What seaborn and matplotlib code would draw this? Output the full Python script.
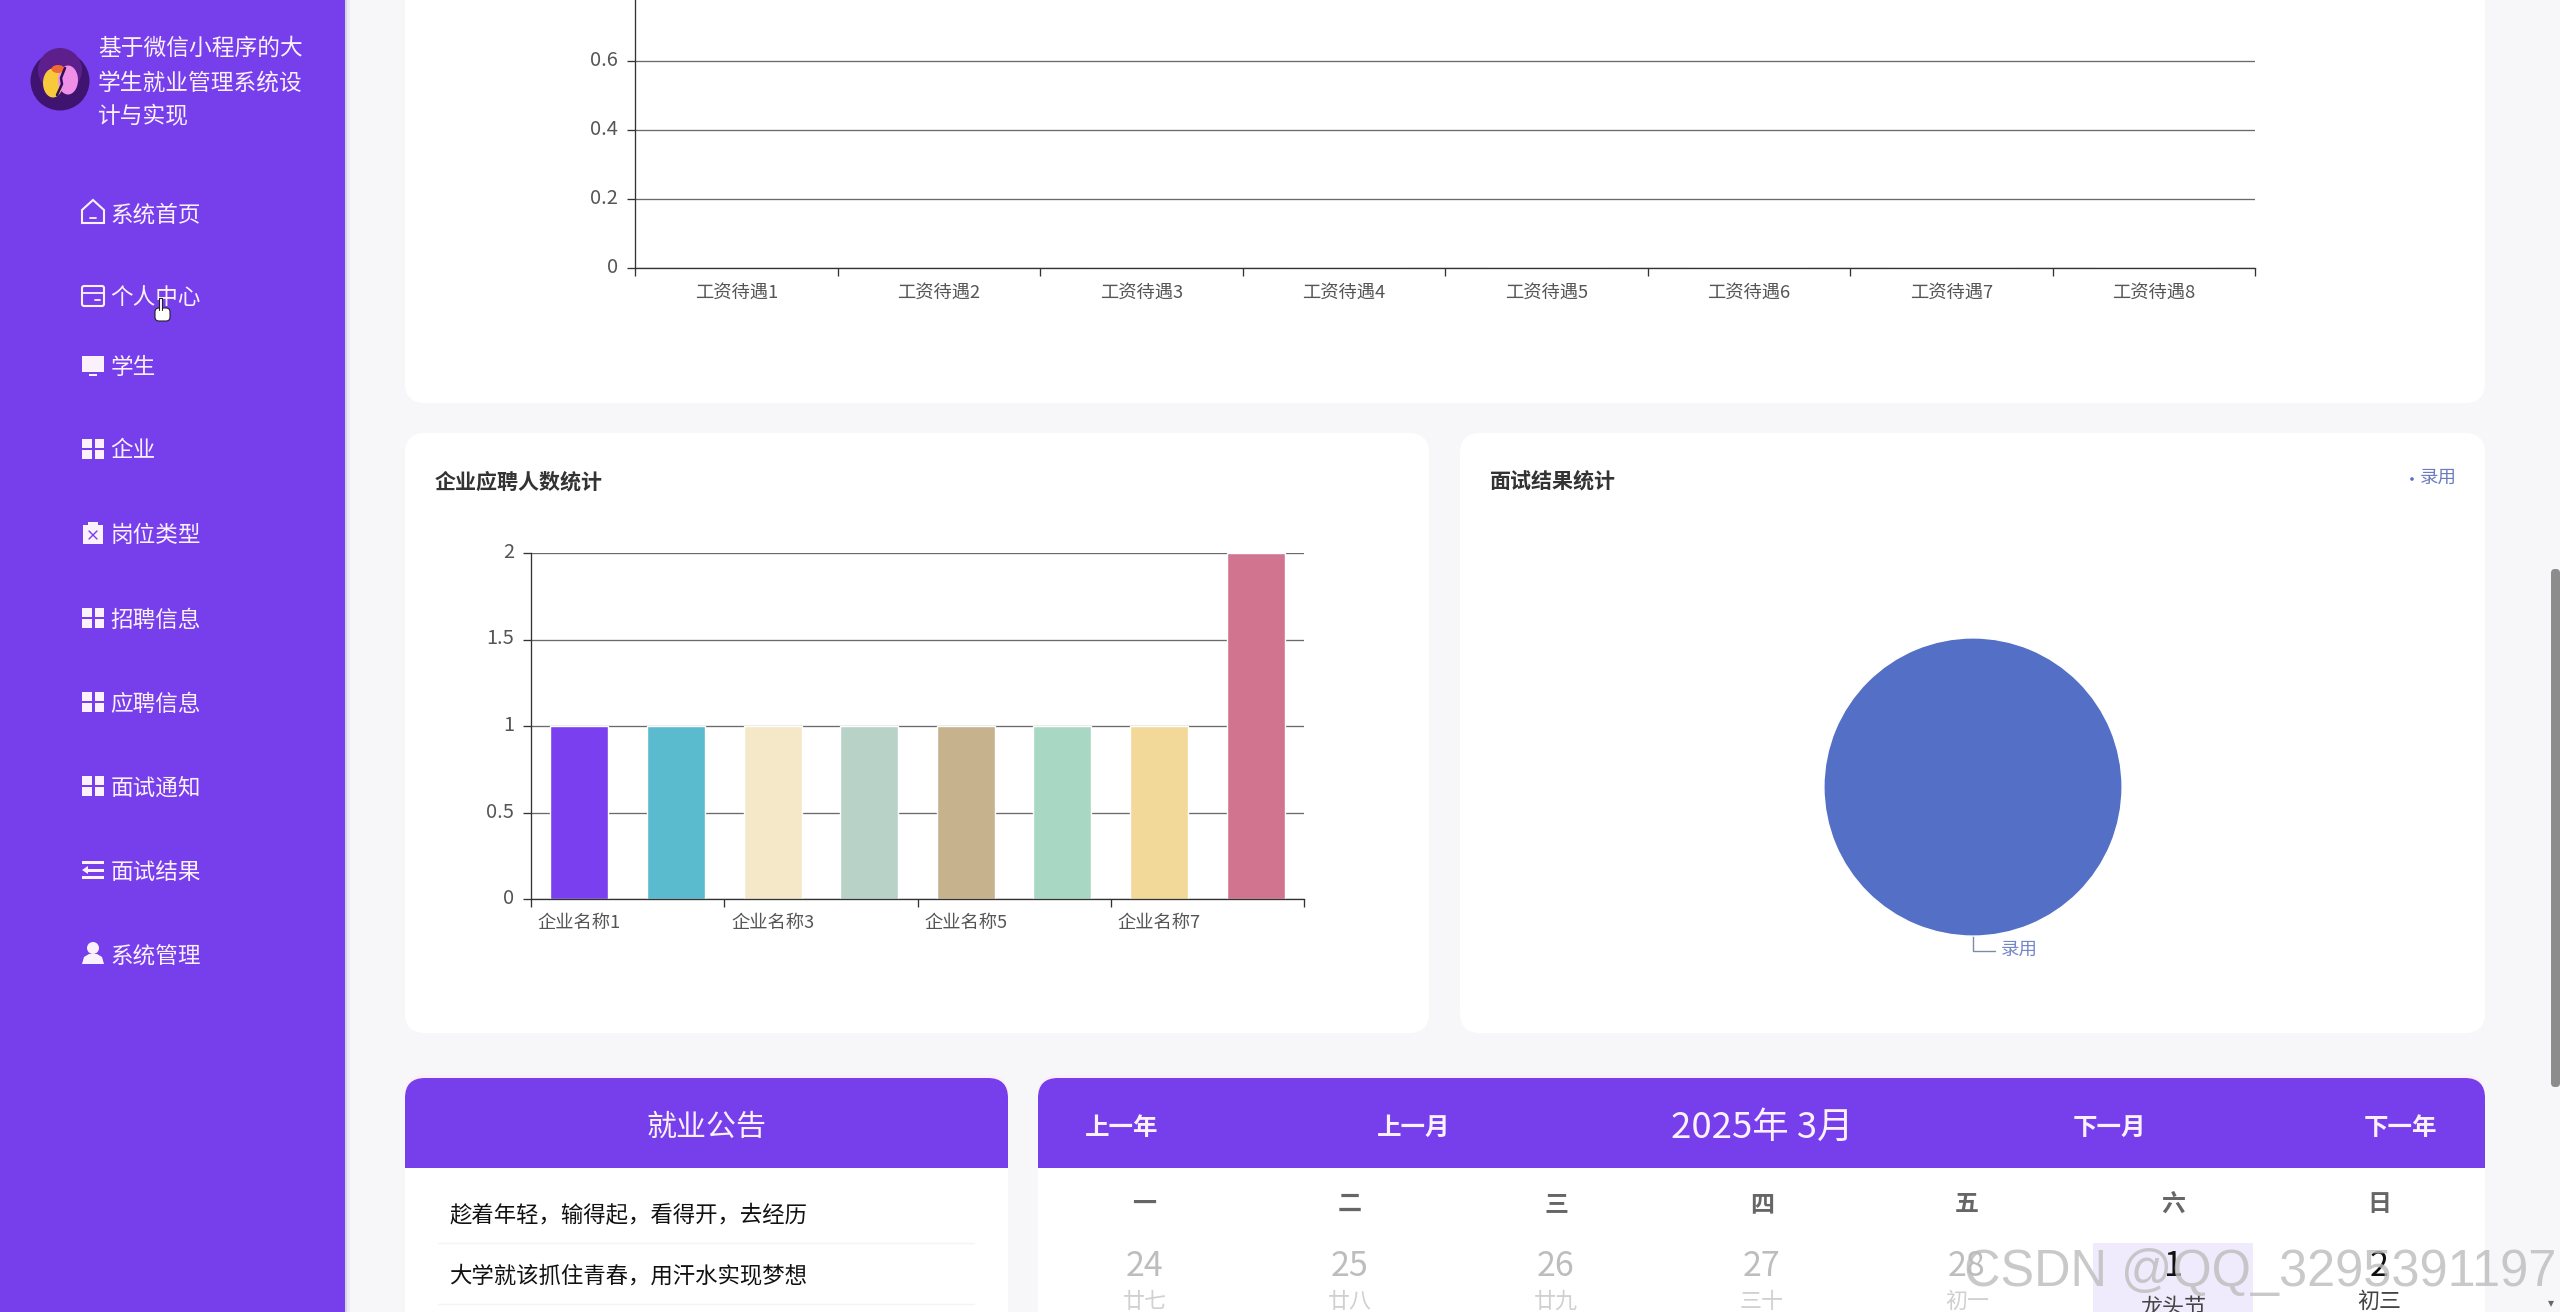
import matplotlib
matplotlib.use("Agg")
import matplotlib.pyplot as plt
import matplotlib.transforms as mtrans
import seaborn as sns
import pandas as pd
from matplotlib.patches import Rectangle, FancyBboxPatch, Circle, Ellipse, Polygon

# data
salary_labels = ["工资待遇1", "工资待遇2", "工资待遇3", "工资待遇4", "工资待遇5", "工资待遇6", "工资待遇7", "工资待遇8"]
salary_values = [0, 0, 0, 0, 0, 0, 0, 0]
salary_yticks = [0, 0.2, 0.4, 0.6, 0.8, 1.0]
salary_yticklabels = ["0", "0.2", "0.4", "0.6", "0.8", "1"]

company_labels = ["企业名称1", "企业名称2", "企业名称3", "企业名称4", "企业名称5", "企业名称6", "企业名称7", "企业名称8"]
company_values = [1, 1, 1, 1, 1, 1, 1, 2]
company_colors = ["#7a3fee", "#5abbce", "#f5e8c8", "#b8d2c7", "#c6b38e", "#a8d8c4", "#f3d999", "#d0748f"]
company_yticks = [0, 0.5, 1, 1.5, 2]
company_yticklabels = ["0", "0.5", "1", "1.5", "2"]

result_labels = ["录用"]
result_values = [1]
result_colors = ["#5470c6"]

menu_items = ["系统首页", "个人中心", "学生", "企业", "岗位类型", "招聘信息", "应聘信息", "面试通知", "面试结果", "系统管理"]
menu_y = [213, 296, 366, 449, 534, 618, 702, 786, 870, 954]
menu_icons = ["home", "card", "screen", "grid", "clip", "grid", "grid", "grid", "list", "user"]
notices = ["趁着年轻，输得起，看得开，去经历", "大学就该抓住青春，用汗水实现梦想"]
week_days = ["一", "二", "三", "四", "五", "六", "日"]
date_nums = ["24", "25", "26", "27", "28", "1", "2"]
date_lunar = ["廿七", "廿八", "廿九", "三十", "初一", "龙头节", "初三"]

W, H = 2560, 1312
PURPLE = "#773fec"
SIDE_TEXT = "#fbf1fc"

sns.set_theme(style="white")
plt.rcParams["font.family"] = ["Noto Sans CJK SC", "DejaVu Sans"]
plt.rcParams["axes.unicode_minus"] = False

fig = plt.figure(figsize=(W / 100, H / 100), dpi=100, facecolor="#f7f7f9")


def px(size):
    return size * 0.72


def chart_axes(x0, y0, x1, y1):
    return fig.add_axes([x0 / W, 1 - y1 / H, (x1 - x0) / W, (y1 - y0) / H], zorder=2)


# page layer in pixel coordinates
bg = fig.add_axes([0, 0, 1, 1], zorder=0)
bg.set_xlim(0, W)
bg.set_ylim(H, 0)
bg.axis("off")


def rect(x0, y0, x1, y1, color, z=1):
    bg.add_patch(Rectangle((x0, y0), x1 - x0, y1 - y0, fc=color, ec="none", zorder=z))


def card(x0, y0, x1, y1, color="white", r=20, z=1):
    bg.add_patch(FancyBboxPatch((x0, y0), x1 - x0, y1 - y0, boxstyle=f"round,pad=0,rounding_size={r}",
                                fc=color, ec="none", zorder=z))


def label(x, y, s, size, color="#333333", ha="center", weight="normal", z=4, **kw):
    # noto sits a little high against the browser font
    return bg.text(x, y + 2, s, fontsize=px(size), color=color, ha=ha, va="center", fontweight=weight, zorder=z, **kw)


# sidebar
rect(345, 0, 347, H, "#d8d2e8")
rect(347, 0, 350, H, "#ecebf3")
rect(0, 0, 345, H, PURPLE, z=2)
bg.add_patch(Circle((60, 81), 29.5, fc="#3f1470", ec="none", zorder=3))
bg.add_patch(Circle((60, 70), 22, fc="#5d1f8c", ec="none", zorder=3))
bg.add_patch(Ellipse((53, 83), 20, 29, fc="#f9c93c", ec="none", zorder=4))
bg.add_patch(Ellipse((68, 80), 20, 29, fc="#ef8fe6", ec="none", zorder=4))
bg.add_patch(Ellipse((58, 69), 13, 8, fc="#ef6a35", ec="none", zorder=4))
bg.plot([65, 61, 62, 57], [68, 78, 84, 95], color="#2f0f55", lw=1.8, zorder=5)
for y, s in zip([46, 81, 115], ["基于微信小程序的大", "学生就业管理系统设", "计与实现"]):
    label(98, y, s, 22.7, SIDE_TEXT, ha="left")


def draw_icon(kind, y):
    x0, x1 = 82, 104
    c = SIDE_TEXT
    if kind == "grid":
        for xa in (82, 94.5):
            for ya in (y - 10, y + 1):
                rect(xa, ya, xa + 9.5, ya + 8.5, c, z=4)
    elif kind == "home":
        bg.add_patch(Polygon([(x0, y - 3), (93, y - 13), (x1, y - 3), (x1, y + 10), (x0, y + 10)], closed=True,
                             fc="none", ec=c, lw=1.5, zorder=4))
        bg.plot([90, 96], [y + 5, y + 5], color=c, lw=1.3, zorder=4)
    elif kind == "card":
        bg.add_patch(FancyBboxPatch((x0, y - 10), 22, 20, boxstyle="round,pad=0,rounding_size=2",
                                    fc="none", ec=c, lw=1.5, zorder=4))
        bg.plot([x0, x1], [y - 3, y - 3], color=c, lw=1.3, zorder=4)
        bg.plot([95, 100], [y + 4, y + 4], color=c, lw=1.3, zorder=4)
    elif kind == "screen":
        rect(x0, y - 10, x1, y + 6, c, z=4)
        rect(89, y + 8, 97, y + 10, c, z=4)
    elif kind == "clip":
        rect(83, y - 9, 103, y + 10, c, z=4)
        rect(88, y - 12, 98, y - 9, c, z=4)
        bg.plot([89, 97], [y - 3, y + 5], color=PURPLE, lw=1, zorder=5)
        bg.plot([97, 89], [y - 3, y + 5], color=PURPLE, lw=1, zorder=5)
    elif kind == "list":
        rect(x0, y - 9, x1, y - 6, c, z=4)
        rect(88, y - 1.5, x1, y + 1.5, c, z=4)
        rect(x0, y + 6, x1, y + 9, c, z=4)
        bg.add_patch(Polygon([(x0, y), (88, y - 4), (88, y + 4)], fc=c, ec="none", zorder=4))
    elif kind == "user":
        bg.add_patch(Circle((93, y - 6), 6, fc=c, ec="none", zorder=4))
        bg.add_patch(Polygon([(82, y + 10), (84, y + 3), (89, y), (97, y), (102, y + 3), (104, y + 10)],
                             fc=c, ec="none", zorder=4))


for name, y, icon in zip(menu_items, menu_y, menu_icons):
    draw_icon(icon, y)
    label(110.5, y, name, 22.6, SIDE_TEXT, ha="left")

# hand cursor over 个人中心
bg.add_patch(FancyBboxPatch((155, 308), 15, 13, boxstyle="round,pad=0,rounding_size=4", fc="white", ec="#222222",
                            lw=0.8, zorder=6))
rect(158.5, 298, 162, 312, "white", z=7)
bg.plot([158.5, 158.5, 162, 162], [310, 298, 298, 310], color="#222222", lw=0.8, zorder=7)

# cards
card(405, -40, 2485, 403)
card(405, 433, 1429, 1033)
card(1460, 433, 2485, 1033)
rect(405, 1168, 1008, H + 5, "white")
rect(1038, 1168, 2485, H + 5, "white")
for x0, x1 in [(405, 1008), (1038, 2485)]:
    card(x0, 1075, x1, 1140, "#fdeef8", z=1)
    card(x0, 1078, x1, 1168, PURPLE, z=2)
    rect(x0, 1130, x1, 1168, PURPLE, z=2)

# scrollbar
card(2551, 569, 2560, 1087, "#8c8c8c", r=4)
label(2551, 1301, "▾", 12, "#666666", family="DejaVu Sans")

# chart titles
label(435, 480, "企业应聘人数统计", 21, "#333333", ha="left", weight="bold")
label(1490, 480, "面试结果统计", 21, "#333333", ha="left", weight="bold")

# salary chart, top of the axes sits above the visible page
ax1 = chart_axes(635, -77, 2255, 268)
salary_df = pd.DataFrame({"name": salary_labels, "value": salary_values})
sns.barplot(data=salary_df, x="name", y="value", color="#7a3fee", width=0.6, ax=ax1)
ax1.set_xlim(-0.5, len(salary_labels) - 0.5)
ax1.set_ylim(0, 1)
ax1.set_yticks(salary_yticks)
ax1.set_yticklabels(salary_yticklabels)
ax1.set_xticks(range(len(salary_labels)))
ax1.set_xticklabels(salary_labels)
ax1.set_xticks([i - 0.5 for i in range(len(salary_labels) + 1)], minor=True)

# company chart
ax2 = chart_axes(531, 553, 1304, 899)
company_df = pd.DataFrame({"name": company_labels, "value": company_values})
sns.barplot(data=company_df, x="name", y="value", hue="name", palette=company_colors, legend=False, width=0.6,
            saturation=1, ax=ax2)
ax2.set_xlim(-0.5, len(company_labels) - 0.5)
ax2.set_ylim(0, 2)
ax2.set_yticks(company_yticks)
ax2.set_yticklabels(company_yticklabels)
ax2.set_xticks(range(0, len(company_labels), 2))
ax2.set_xticklabels(company_labels[::2])
ax2.set_xticks([i - 0.5 for i in range(0, len(company_labels) + 1, 2)], minor=True)

label_up = mtrans.ScaledTranslation(0, 3 / 100, fig.dpi_scale_trans)
for ax in (ax1, ax2):
    ax.set_xlabel("")
    ax.set_ylabel("")
    ax.set_facecolor("none")
    ax.set_axisbelow(True)
    ax.grid(axis="y", color="#6a6a6a", lw=0.95)
    ax.grid(axis="x", visible=False)
    sns.despine(ax=ax)
    ax.spines["left"].set_color("#333333")
    ax.spines["bottom"].set_color("#333333")
    ax.spines["left"].set_linewidth(0.95)
    ax.spines["bottom"].set_linewidth(0.95)
    ax.tick_params(axis="y", which="major", left=True, length=5.5, width=0.95, color="#333333", pad=6.5,
                   labelsize=px(20), labelcolor="#555555")
    ax.tick_params(axis="x", which="major", bottom=False, length=0, pad=11, labelsize=px(18.3), labelcolor="#555555")
    ax.tick_params(axis="x", which="minor", bottom=True, length=5.5, width=0.95, color="#333333")
    for tick_text in ax.get_yticklabels():
        tick_text.set_transform(tick_text.get_transform() + label_up)

# pie chart
ax3 = chart_axes(1973 - 164, 787 - 164, 1973 + 164, 787 + 164)
ax3.pie(result_values, colors=result_colors, startangle=90, radius=1)
ax3.set_xlim(-1.1, 1.1)
ax3.set_ylim(-1.1, 1.1)
bg.plot([1973, 1973, 1995], [935, 951, 951], color="#7f8aa8", lw=1, zorder=3)
label(2001, 948, result_labels[0], 18.5, "#7486c8", ha="left")
bg.add_patch(Circle((2412, 479), 1.8, fc="#5470c6", ec="none", zorder=3))
label(2420, 476, result_labels[0], 18.5, "#6c7cbc", ha="left")

# notice panel
label(706, 1125, "就业公告", 30, SIDE_TEXT)
for y, s in zip([1214, 1274], notices):
    label(449, y, s, 22.4, "#111111", ha="left")
for y in [1243, 1304]:
    bg.plot([438, 974], [y, y], color="#f4f4f4", lw=1, zorder=3)

# calendar panel
cal_x = [1144.5, 1350, 1556, 1762, 1967, 2173, 2379]
for x, s in zip([1122, 1414, 2109, 2400], ["上一年", "上一月", "下一月", "下一年"]):
    label(x, 1126, s, 24.5, SIDE_TEXT, weight="bold")
label(1762, 1126, "2025年 3月", 36.5, SIDE_TEXT)
rect(2093, 1243, 2253, H + 5, "#efebfc", z=2)
for i, x in enumerate(cal_x):
    label(x, 1202, week_days[i], 24, "#666666", weight="bold")
    dark = i >= 5
    label(x, 1265, date_nums[i], 34, "#111111" if dark else "#bdbdbd")
    label(x, 1306 if i == 5 else 1300, date_lunar[i], 22, "#444444" if dark else "#d0d0d0")

# csdn watermark
label(2260, 1271, "CSDN @QQ_3295391197", 50.5, "#bcbcbc", family="Liberation Sans", alpha=0.8, z=8)

fig.savefig("out.png", dpi=100, facecolor=fig.get_facecolor())
